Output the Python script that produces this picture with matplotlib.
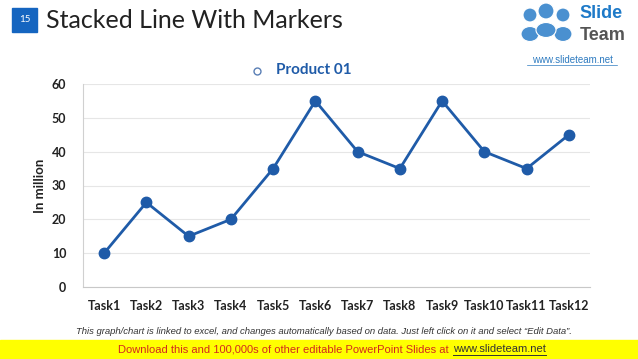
import matplotlib.pyplot as plt
from matplotlib.patches import Rectangle, Circle, Ellipse

# Chart data
tasks = ["Task1", "Task2", "Task3", "Task4", "Task5", "Task6",
         "Task7", "Task8", "Task9", "Task10", "Task11", "Task12"]
product_01 = [10, 25, 15, 20, 35, 55, 40, 35, 55, 40, 35, 45]
y_ticks = [0, 10, 20, 30, 40, 50, 60]

BLUE = "#1F5BA8"
W, H = 638, 359

fig = plt.figure(figsize=(W / 100, H / 100), dpi=100)
fig.patch.set_facecolor("white")

# Plot area (pixel coordinates from the reference)
left, right, top, bottom = 83, 590, 84, 287
ax = fig.add_axes([left / W, 1 - bottom / H, (right - left) / W, (bottom - top) / H])

x = list(range(len(tasks)))
ax.plot(x, product_01, color=BLUE, lw=2, marker="o", markersize=7.5,
        markerfacecolor=BLUE, markeredgecolor=BLUE)

ax.set_xlim(-0.5, len(tasks) - 0.5)
ax.set_ylim(0, 60)
ax.set_yticks(y_ticks)
ax.set_xticks(x)
ax.set_xticklabels(tasks)
ax.grid(axis="y", color="#E6E6E6", lw=0.8)
ax.set_axisbelow(True)
for side in ["top", "right"]:
    ax.spines[side].set_visible(False)
ax.spines["left"].set_color("#D0D0D0")
ax.spines["bottom"].set_color("#C8C8C8")
ax.tick_params(length=0, labelsize=9)
for lbl in ax.get_xticklabels() + ax.get_yticklabels():
    lbl.set_fontweight("bold")
    lbl.set_family("Lato")
    lbl.set_color("#222222")
ax.tick_params(axis="x", pad=9)
ax.tick_params(axis="y", pad=12)
ax.set_ylabel("In million", fontsize=9.5, fontweight="bold", family="Lato",
              color="#222222", labelpad=4)

# Overlay in pixel coordinates for slide decorations
ov = fig.add_axes([0, 0, 1, 1], zorder=-1)
ov.set_xlim(0, W)
ov.set_ylim(H, 0)
ov.axis("off")

# Legend
ov.plot([257], [71], "o", ms=5, mfc="white", mec="#5A7FB5", mew=1)
ov.text(276, 70, "Product 01", ha="left", va="center",
        fontsize=11, fontweight="bold", color=BLUE, family="Lato")

# Header
ov.add_patch(Rectangle((12, 8), 25, 24, color="#1565C0"))
ov.text(24.5, 20, "15", ha="center", va="center",
        fontsize=7, color="white", family="Lato")
ov.text(46, 21, "Stacked Line With Markers", ha="left",
        va="center", fontsize=18, color="#222222", family="Lato")

# Logo (rough)
for cx, cy, r, bw in [(530, 15, 7, 18), (563, 15, 7, 18), (546, 11, 8, 20)]:
    ov.add_patch(Ellipse((cx, cy + 19), bw, 15, color="#4A90D0", ec="white", lw=0.8))
    ov.add_patch(Circle((cx, cy), r, color="#4A90D0", ec="white", lw=0.8))
ov.text(579, 14, "Slide", fontsize=13, fontweight="bold",
        color="#1E7AC8", va="center", ha="left", family="Liberation Sans")
ov.text(580, 36, "Team", fontsize=13, fontweight="bold",
        color="#555555", va="center", ha="left", family="Liberation Sans")
ov.text(572, 60, "www.slideteam.net", fontsize=7,
        color="#2E7BC0", va="center", ha="center", family="Liberation Sans")
ov.plot([527, 617], [64.5, 64.5], color="#2E7BC0", lw=0.5)

# Footnote
ov.text(324, 331,
        "This graph/chart is linked to excel, and changes automatically based on data. "
        "Just left click on it and select \u201cEdit Data\u201d.",
        ha="center", va="center", fontsize=6.8, style="italic",
        color="#333333", family="Liberation Sans")

# Bottom banner
ov.add_patch(Rectangle((0, 340), W, 19, color="#FFFF00"))
ov.text(452, 349, "Download this and 100,000s of other editable PowerPoint Slides at ",
        ha="right", va="center", fontsize=8, color="#D22A1E",
        family="Liberation Sans")
ov.text(453, 349, "www.slideteam.net", ha="left", va="center",
        fontsize=8, color="#333333", family="Liberation Sans")
ov.plot([453, 546], [354.5, 354.5], color="#333333", lw=0.7)

fig.savefig("out.png", dpi=100)
